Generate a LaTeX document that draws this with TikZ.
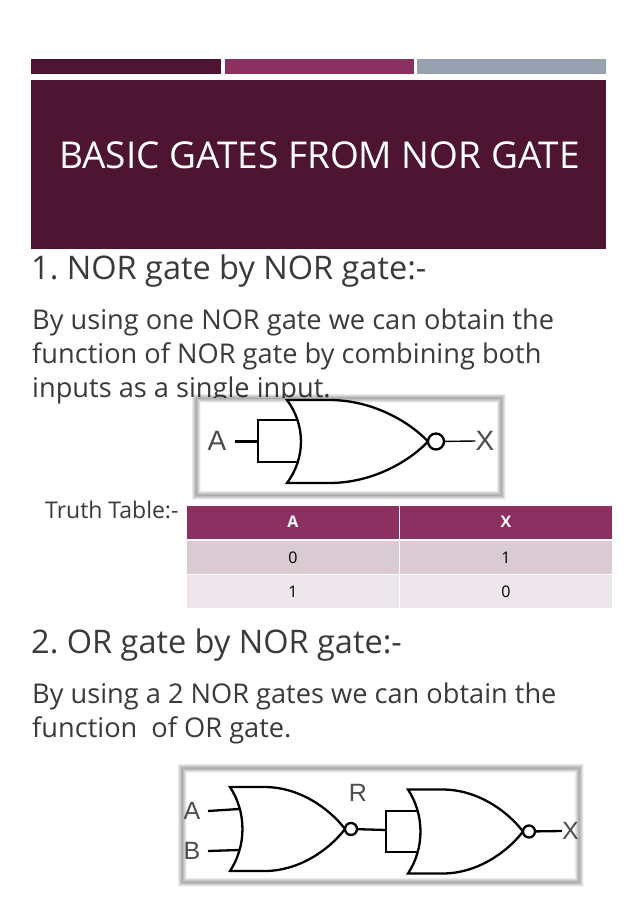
\documentclass[tikz,border=0pt]{standalone}
\usepackage{fontspec}
\setmainfont{Open Sans}
\newfontfamily\labelfont{Liberation Sans}
\definecolor{plumdark}{HTML}{4E1532}
\definecolor{plummid}{HTML}{8C3062}
\definecolor{slatebar}{HTML}{98A1AF}
\definecolor{rowa}{HTML}{DACBD3}
\definecolor{rowb}{HTML}{EDE6EA}
\definecolor{bodytext}{HTML}{3A3A3A}
\newcommand{\sz}[1]{\fontsize{#1}{#1}\selectfont}
\newcommand{\norgate}[7]{% name, x, ymid, length, half height, bulge, bubble r
  \draw[gateline] (#2,#3-#5) .. controls (#2+#6*1.33,#3-#5*0.4) and (#2+#6*1.33,#3+#5*0.4) .. (#2,#3+#5)
    -- (#2+#4*0.3,#3+#5) .. controls (#2+#4*0.6,#3+#5) and (#2+#4*0.86,#3+#5*0.5) .. (#2+#4,#3)
    .. controls (#2+#4*0.86,#3-#5*0.5) and (#2+#4*0.6,#3-#5) .. (#2+#4*0.3,#3-#5) -- cycle;
  \node[bubble,minimum size=2*#7 pt] (#1o) at (#2+#4+#7,#3) {};
}
\newcommand{\softbox}[5]{% name, x1,y1,x2,y2
  \foreach \w in {9,8,...,1}{
    \draw[black,line width=\w pt,opacity=0.038] (#2,#3) rectangle (#4,#5);
  }
  \coordinate (#1) at (#2,#3);
}
\tikzset{
  x=1pt,y=-1pt,
  gateline/.style={draw=black,line width=2.3pt,line join=miter,fill=white},
  wire/.style={draw=black,line width=2.3pt},
  bubble/.style={circle,draw=black,line width=2.3pt,fill=white,inner sep=0pt,outer sep=0pt},
  bartext/.style={anchor=base west,inner sep=0pt,text=bodytext},
  gatelabel/.style={inner sep=0pt,text=black!70,font=\labelfont\sz{25}},
  cell/.style={minimum width=212pt,inner sep=0pt,outer sep=0pt,text=black,font=\sz{16}},
}
\begin{document}
\frenchspacing
\begin{tikzpicture}
\useasboundingbox (0,0) rectangle (638,922);
\fill[white] (0,0) rectangle (638,922);
% top bars
\fill[plumdark] (31,59) rectangle (221,74);
\fill[plummid] (225,59) rectangle (414,74);
\fill[slatebar] (417,59) rectangle (606,74);
\fill[plumdark] (31,80) rectangle (606,249);
\node[anchor=base west,inner sep=0pt,text=white,font=\sz{37}] (title) at (59,168) {BASIC GATES FROM NOR GATE};
% section 1
\node[bartext,font=\sz{32.5}] (h1) at (31,279) {1. NOR gate by NOR gate:-};
\node[bartext,font=\sz{27.2}] (p1) at (32,329) {By using one NOR gate we can obtain the};
\node[bartext,font=\sz{27.2}] (p2) at (32,363) {function of NOR gate by combining both};
\node[bartext,font=\sz{27.2}] (p3) at (32,397) {inputs as a single input.};
% gate 1
\fill[white] (196,398) rectangle (501,495);
\softbox{box1}{196}{398}{501}{495}
\norgate{g}{287}{441.5}{141}{41.5}{14}{8}
\coordinate (gin) at (235,441.5);
\coordinate (gt) at (258,420);
\coordinate (gb) at (258,462);
\draw[wire] (298,420) -- (gt) -- (gb) -- (298,462);
\draw[wire] (gin) -- (258,441.5);
\node[gatelabel,font=\labelfont\sz{28}] (A1) at (217,441) {A};
\node[gatelabel,font=\labelfont\sz{28}] (X1) at (485,441) {X};
\draw[wire,line width=1.4pt] (go) -- (X1.west);
% truth table
\node[bartext,font=\sz{23}] (tt) at (45,518) {Truth Table:-};
\node[cell,fill=plummid,minimum height=33pt,text=white,font=\bfseries\sz{16}] (c11) at (293,522) {A};
\node[cell,fill=plummid,minimum height=33pt,text=white,font=\bfseries\sz{16}] (c12) at (506,522) {X};
\node[cell,fill=rowa,minimum height=33pt] (c21) at (293,557.5) {0};
\node[cell,fill=rowa,minimum height=33pt] (c22) at (506,557.5) {1};
\node[cell,fill=rowb,minimum height=33pt] (c31) at (293,591.5) {1};
\node[cell,fill=rowb,minimum height=33pt] (c32) at (506,591.5) {0};
% section 2
\node[bartext,font=\sz{32.5}] (h2) at (31,653) {2. OR gate by NOR gate:-};
\node[bartext,font=\sz{27.2}] (q1) at (32,703) {By using a 2 NOR gates we can obtain the};
\node[bartext,font=\sz{27.2}] (q2) at (32,737) {function\ \ of OR gate.};
% gate 2
\softbox{box2}{182}{768}{579}{882}
\norgate{m}{230}{829}{115}{42}{12.5}{6}
\norgate{n}{408}{831.5}{115}{42}{12.5}{6}
\coordinate (ss) at (386,830);
\coordinate (st) at (386,811);
\coordinate (sb) at (386,852);
\draw[wire] (418,811) -- (st) -- (sb) -- (418,852);
\draw[wire] (mo) -- (ss);
\node[gatelabel] (A2) at (192,811) {A};
\node[gatelabel] (B2) at (192,851) {B};
\node[gatelabel] (R2) at (358,793) {R};
\node[gatelabel] (X2) at (570.5,831) {X};
\draw[wire] (A2.east -| 208,809) -- (239,809);
\draw[wire] (B2.east -| 208,850) -- (239,850);
\draw[wire] (no) -- (X2.west);
\end{tikzpicture}
\end{document}
